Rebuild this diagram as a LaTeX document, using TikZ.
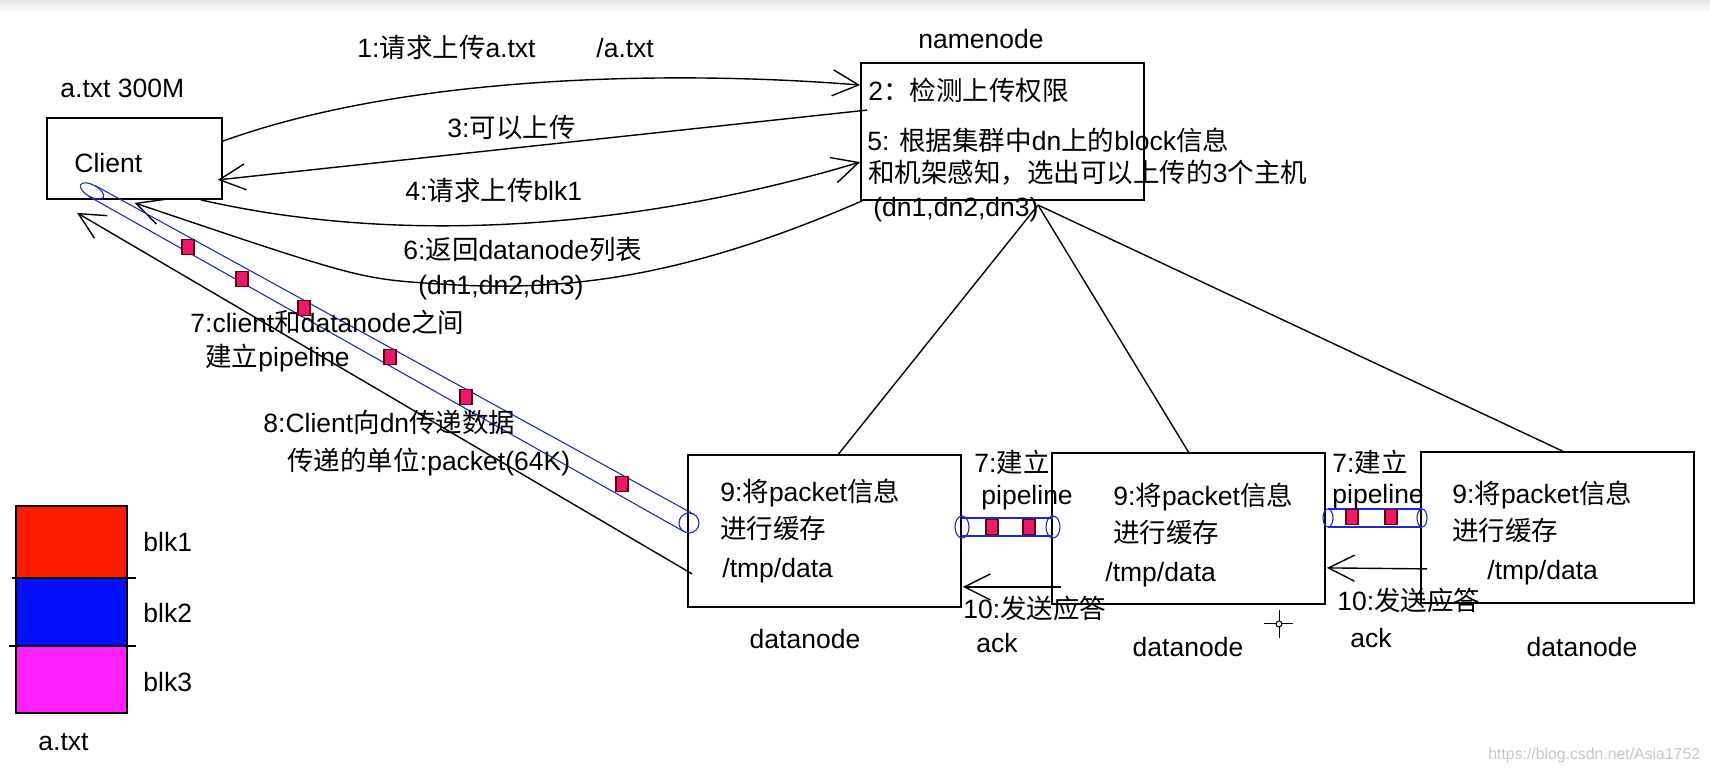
\documentclass[tikz,border=0pt]{standalone}
\usepackage{fontspec}
\setmainfont{Liberation Sans}
\newfontfamily\cjk{Noto Sans CJK SC}
\usetikzlibrary{arrows.meta,calc}
\definecolor{pktpink}{RGB}{236,24,108}
\definecolor{pipeblue}{RGB}{30,40,210}
\definecolor{blkred}{RGB}{255,28,0}
\definecolor{blkblue}{RGB}{0,16,255}
\definecolor{blkmag}{RGB}{255,32,255}
\newcommand{\zh}[1]{{\cjk #1}}

\begin{document}
\begin{tikzpicture}[x=0.5pt,y=-0.5pt,
		box/.style={draw,line width=0.9pt,inner sep=0,minimum width=136.5pt,minimum height=75.5pt},
		txt/.style={anchor=west,inner sep=0,font=\fontsize{13.25pt}{16pt}\selectfont},
		arr/.style={line width=0.7pt,-{Straight Barb[length=13pt,width=13pt]}},
		conn/.style={line width=0.7pt},
		tube/.style={draw=pipeblue,line width=0.55pt},
		pkt/.style={draw=black!60!red,fill=pktpink,line width=0.6pt,inner sep=0,minimum width=6pt,minimum height=7.5pt},
		legendbox/.style={draw,line width=0.6pt,inner sep=0,minimum width=55.5pt}]
		\fill[white] (0,0) rectangle (1710,774);
		\fill[top color=black!10,bottom color=white] (0,0) rectangle (1710,12);
		\useasboundingbox (0,0) rectangle (1710,774);
		% boxes
		\node[box,minimum width=87.5pt,minimum height=40.5pt] (client) at (134.5,158.5) {};
		\node[box,minimum width=141.5pt,minimum height=68.5pt] (namenode) at (1002.5,131.5) {};
		\node[box,minimum height=76pt] (dn1) at (824.5,531) {};
		\node[box] (dn2) at (1188.5,528.5) {};
		\node[box] (dn3) at (1557.5,527.5) {};
		% client and namenode texts
		\node[txt] (atxt) at (60,88) {a.txt 300M};
		\node[txt] (clientlbl) at (74,163) {Client};
		\node[txt,anchor=center] (nnlbl) at (981,39) {namenode};
		\node[txt] (nn2) at (868,90) {2\zh{：检测上传权限}};
		\node[txt] (nn5a) at (867,140) {5: \zh{根据集群中}dn\zh{上的}block\zh{信息}};
		\node[txt] (nn5b) at (868,173) {\zh{和机架感知，选出可以上传的}3\zh{个主机}};
		\node[txt] (nn5c) at (873,210) {(dn1,dn2,dn3)};
		% requests between client and namenode
		\draw[arr] ($(client.north east)+(0,24)$) .. controls (420,70) and (700,72) .. ($(namenode.north west)+(0,23)$);
		\draw[arr] ($(namenode.north west)+(7,48)$) -- ($(client.south east)+(-5,-20)$);
		\draw[arr] ($(client.south east)+(-22,0)$) .. controls (420,250) and (660,222) .. ($(namenode.north west)+(0,100)$);
		\draw[arr] ($(namenode.south west)+(2,0)$) .. controls (680,280) and (560,292) .. (440,284) .. controls (360,279) .. ($(client.south)+(0,3)$);
		\node[txt] (l1) at (357,47) {1:\zh{请求上传}a.txt};
		\node[txt] (lpath) at (596,48) {/a.txt};
		\node[txt] (l3) at (447,128) {3:\zh{可以上传}};
		\node[txt] (l4) at (405,190) {4:\zh{请求上传}blk1};
		\node[txt] (l6a) at (403,250) {6:\zh{返回}datanode\zh{列表}};
		\node[txt] (l6b) at (418,288) {(dn1,dn2,dn3)};
		% pipeline client -> dn1
		\coordinate (tubeA) at (92,191);
		\coordinate (tubeB) at (689,523);
		\draw[tube,rotate around={-29:(tubeA)}] (tubeA) ellipse [x radius=6.5pt,y radius=3pt];
		\draw[tube] (tubeB) circle [radius=5pt];
		\draw[tube] ($(tubeA)+(3,-5.5)$) -- ($(tubeB)+(4.8,-8.7)$);
		\draw[tube] ($(tubeA)+(-3,5.5)$) -- ($(tubeB)+(-4.8,8.7)$);
		\draw[arr] ($(dn1.south west)+(5,-34)$) -- ($(client.south west)+(31,13)$);
		\node[txt] (l7a) at (190,322) {7:client\zh{和}datanode\zh{之间}};
		\node[txt] (l7b) at (205,358) {\zh{建立}pipeline};
		\node[txt] (l8a) at (263,422) {8:Client\zh{向}dn\zh{传递数据}};
		\node[txt] (l8b) at (287,462) {\zh{传递的单位}:packet(64K)};
		% pipelines dn1 -> dn2 -> dn3
		\coordinate (pipeA) at (962,527);
		\coordinate (pipeB) at (1053,527);
		\coordinate (pipeC) at (1328,518);
		\coordinate (pipeD) at (1422,518);
		\draw[tube] (pipeA) ellipse [x radius=3.5pt,y radius=5.5pt] (pipeB) ellipse [x radius=3.5pt,y radius=5.5pt];
		\draw[tube] ($(pipeA)+(0,-9)$) -- ($(pipeB)+(0,-9)$) ($(pipeA)+(0,9)$) -- ($(pipeB)+(0,9)$);
		\draw[tube] (pipeC) ellipse [x radius=2.5pt,y radius=4.5pt] (pipeD) ellipse [x radius=2.5pt,y radius=4.5pt];
		\draw[tube] ($(pipeC)+(0,-9)$) -- ($(pipeD)+(0,-9)$) ($(pipeC)+(0,9)$) -- ($(pipeD)+(0,9)$);
		\foreach \p [count=\i] in {(188,247),(242,279),(304,308),(390,357),(466,397),(622,484),(992,527),(1029,527),(1352,517),(1391,517)}
			\node[pkt] (pkt\i) at \p {};
		% namenode -> datanodes
		\coordinate (nnfoot) at (1038,205);
		\draw[conn] (nnfoot) -- ($(dn1.north)+(14,0)$);
		\draw[conn] (nnfoot) -- (dn2.north);
		\draw[conn] (nnfoot) -- ($(dn3.north)+(5,0)$);
		% acks
		\draw[arr] ($(dn2.south west)+(10,-18)$) -- ($(dn1.south east)+(1,-21)$);
		\draw[arr] ($(dn3.south west)+(7,-35)$) -- ($(dn2.south east)+(1,-37)$);
		\node[txt] (p1a) at (974,462) {7:\zh{建立}};
		\node[txt] (p1b) at (981,498) {pipeline};
		\node[txt] (p2a) at (1332,462) {7:\zh{建立}};
		\node[txt] (p2b) at (1332,497) {pipeline};
		\node[txt] (ack1a) at (963,608) {10:\zh{发送应答}};
		\node[txt] (ack1b) at (976,643) {ack};
		\node[txt] (ack2a) at (1337,600) {10:\zh{发送应答}};
		\node[txt] (ack2b) at (1350,638) {ack};
		% datanode texts
		\node[txt] (dn1a) at (720,493) {9:\zh{将}packet\zh{信息}};
		\node[txt] (dn1b) at (720,528) {\zh{进行缓存}};
		\node[txt] (dn1c) at (722,571) {/tmp/data};
		\node[txt,anchor=center] (dn1lbl) at (805,639) {datanode};
		\node[txt] (dn2a) at (1113,497) {9:\zh{将}packet\zh{信息}};
		\node[txt] (dn2b) at (1113,532) {\zh{进行缓存}};
		\node[txt] (dn2c) at (1105,575) {/tmp/data};
		\node[txt,anchor=center] (dn2lbl) at (1188,647) {datanode};
		\node[txt] (dn3a) at (1452,495) {9:\zh{将}packet\zh{信息}};
		\node[txt] (dn3b) at (1452,530) {\zh{进行缓存}};
		\node[txt] (dn3c) at (1487,573) {/tmp/data};
		\node[txt,anchor=center] (dn3lbl) at (1582,647) {datanode};
		% cursor
		\draw[line width=0.5pt] (1279,610) -- (1279,638) (1264,624) -- (1293,624);
		\draw[line width=0.5pt,fill=white] (1279,624) circle [radius=1.5pt];
		% a.txt blocks
		\node[legendbox,fill=blkred,minimum height=36pt] (blk1) at (71.5,542) {};
		\node[legendbox,fill=blkblue,minimum height=34pt] (blk2) at (71.5,612) {};
		\node[legendbox,fill=blkmag,minimum height=33.5pt] (blk3) at (71.5,679.5) {};
		\draw[line width=0.6pt] (12,578) -- (136,578) (9,646) -- (136,646);
		\node[txt] (blk1lbl) at (143,542) {blk1};
		\node[txt] (blk2lbl) at (143,613) {blk2};
		\node[txt] (blk3lbl) at (143,682) {blk3};
		\node[txt] (filelbl) at (38,742) {a.txt};
		\node[anchor=west,inner sep=0,text=black!22,font=\fontsize{7.9pt}{9pt}\selectfont] (wm) at (1488,755) {https://blog.csdn.net/Asia1752};
	\end{tikzpicture}
\end{document}
